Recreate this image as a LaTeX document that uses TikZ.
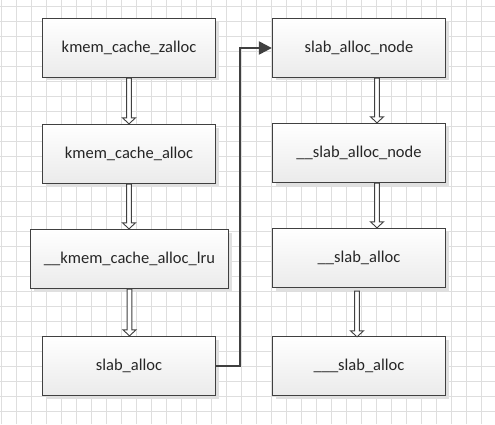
\documentclass[tikz,border=0pt]{standalone}
\usepackage{fontspec}
\setmainfont{Carlito}
\usetikzlibrary{arrows.meta,calc,shadows}

\begin{document}
\begin{tikzpicture}[x=1pt,y=1pt,
    gridline/.style={draw=black!13,line width=0.9pt},
    func/.style={draw=black!75,line width=1.3pt,top color=white,bottom color=black!8,
      minimum width=173pt,minimum height=59pt,text=black!85,
      font=\fontsize{16.5}{20}\selectfont,
      drop shadow={shadow xshift=3pt,shadow yshift=-3pt,fill=black!12,opacity=1}},
    hollow/.style={draw=black!75,line width=0.9pt,fill=white,
      to path={let \p1=(\tikztostart),\p2=(\tikztotarget) in
        (\x1-2.4pt,\y1) -- (\x1-2.4pt,\y2+6pt) -- (\x1-6.5pt,\y2+6pt) -- (\x1,\y2)
        -- (\x1+6.5pt,\y2+6pt) -- (\x1+2.4pt,\y2+6pt) -- (\x1+2.4pt,\y1) -- cycle}},
    link/.style={draw=black!75,line width=2.2pt,-{Triangle[length=13pt,width=13pt]}}]
    \fill[white] (0,0) rectangle (495,424);
    \useasboundingbox (0,0) rectangle (495,424);

    \foreach \gx in {0,...,32}
        \draw[gridline] (1.5+15*\gx,0) -- (1.5+15*\gx,424);
    \foreach \gy in {0,...,27}
        \draw[gridline] (0,417.5-15*\gy) -- (495,417.5-15*\gy);

    \node[func] (kmem1) at (129,376) {kmem\_cache\_zalloc};
    \node[func] (kmem2) at (129,270) {kmem\_cache\_alloc};
    \node[func,minimum width=198pt] (kmem3) at (129.5,165) {\_\_kmem\_cache\_alloc\_lru};
    \node[func] (kmem4) at (129,58) {slab\_alloc};

    \node[func] (slab1) at (359,376) {slab\_alloc\_node};
    \node[func] (slab2) at (359,271) {\_\_slab\_alloc\_node};
    \node[func] (slab3) at (359,166) {\_\_slab\_alloc};
    \node[func] (slab4) at (359,58) {\_\_\_slab\_alloc};

    \foreach \from/\to/\dx in {kmem1/kmem2/0,kmem2/kmem3/0,kmem3/kmem4/0,slab1/slab2/18,slab2/slab3/18}
        \draw[hollow] ([xshift=\dx pt]\from.south) to ([xshift=\dx pt]\to.north);
    \draw[hollow] ([xshift=-2pt,yshift=-3pt]slab3.south) to ([xshift=-2pt,yshift=-1pt]slab4.north);

    \draw[link] (kmem4.east) -- ++(24,0) |- (slab1.west);
\end{tikzpicture}
\end{document}
